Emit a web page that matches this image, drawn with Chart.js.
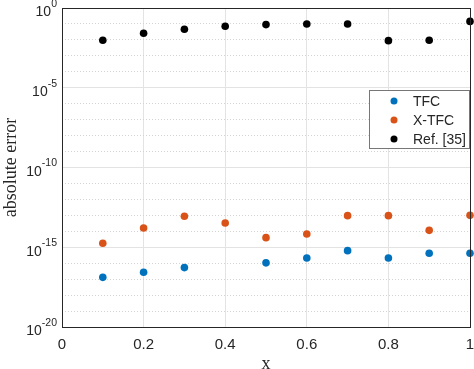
<!DOCTYPE html>
<html>
<head>
<meta charset="utf-8">
<script src="https://cdn.jsdelivr.net/npm/chart.js@4"></script>
<style>
  html, body { margin: 0; padding: 0; background: #fff; }
  #wrap { width: 474px; height: 369px; }
</style>
</head>
<body>
<div id="wrap"><canvas id="grafico"></canvas></div>
<script>
const xValues = [0.1, 0.2, 0.3, 0.4, 0.5, 0.6, 0.7, 0.8, 0.9, 1.0];
const tfc = [1.3e-17, 2.7e-17, 5.3e-17, null, 1.05e-16, 2.1e-16, 6.1e-16, 2.1e-16, 4.2e-16, 4.2e-16];
const xtfc = [1.8e-15, 1.6e-14, 8.7e-14, 3.3e-14, 4e-15, 6.8e-15, 9.6e-14, 9.6e-14, 1.15e-14, 1e-13];
const ref35 = [0.0095, 0.026, 0.047, 0.071, 0.091, 0.1, 0.1, 0.009, 0.0095, 0.145];
const seriesLabels = ['TFC', 'X-TFC', 'Ref. [35]'];
const seriesColors = ['#0072BD', '#D95319', '#000000'];
const yExponents = [-20, -19, -18, -17, -16, -15, -14, -13, -12, -11, -10, -9, -8, -7, -6, -5, -4, -3, -2, -1, 0];
const yLabelExponents = [-20, -15, -10, -5, 0];

const fonteSans = '"Liberation Sans", Arial, sans-serif';
const fonteSerif = '"Liberation Serif", "Times New Roman", serif';

function pontos(valores) {
  return xValues.map((x, i) => ({ x, y: valores[i] })).filter(p => p.y !== null);
}

// rotulos 10^n com expoente elevado, caixa e legenda
const caixaPlugin = {
  id: 'caixa',
  afterDraw(chart) {
    const { ctx, chartArea: a } = chart;
    const yScale = chart.scales.y;
    ctx.save();

    ctx.fillStyle = '#262626';
    ctx.textBaseline = 'middle';
    yLabelExponents.forEach(e => {
      const y = yScale.getPixelForValue(Math.pow(10, e));
      const exp = String(e);
      ctx.font = '10.5px ' + fonteSans;
      const wExp = ctx.measureText(exp).width;
      const xFim = a.left - 5;
      ctx.textAlign = 'right';
      ctx.fillText(exp, xFim, y - 4);
      ctx.font = '14px ' + fonteSans;
      ctx.fillText('10', xFim - wExp, y + 4.5);
    });

    ctx.strokeStyle = '#262626';
    ctx.lineWidth = 1;
    ctx.strokeRect(Math.round(a.left) + 0.5, Math.round(a.top) + 0.5, Math.round(a.right - a.left), Math.round(a.bottom - a.top));

    const bx = 369, by = 90, bw = 100, bh = 58;
    ctx.fillStyle = '#fff';
    ctx.fillRect(bx, by, bw, bh);
    ctx.strokeStyle = '#777';
    ctx.strokeRect(bx + 0.5, by + 0.5, bw, bh);
    ctx.font = '14px ' + fonteSans;
    ctx.textAlign = 'left';
    chart.data.datasets.forEach((ds, i) => {
      const y = 101 + i * 19;
      ctx.fillStyle = ds.backgroundColor;
      ctx.beginPath();
      ctx.arc(394, y, 3.5, 0, Math.PI * 2);
      ctx.fill();
      ctx.fillStyle = '#262626';
      ctx.fillText(ds.label, 413, y + 1);
    });
    ctx.restore();
  }
};

const ctx = document.getElementById('grafico').getContext('2d');
new Chart(ctx, {
  type: 'scatter',
  data: {
    datasets: [tfc, xtfc, ref35].map((valores, i) => ({
      label: seriesLabels[i],
      data: pontos(valores),
      backgroundColor: seriesColors[i],
      borderColor: seriesColors[i],
      pointRadius: 3.8,
      pointHoverRadius: 3.8,
      borderWidth: 0,
      clip: false
    }))
  },
  options: {
    responsive: true,
    maintainAspectRatio: false,
    animation: false,
    layout: { padding: { top: 8, right: 4, left: 0, bottom: 0 } },
    plugins: {
      legend: { display: false },
      tooltip: { enabled: false }
    },
    scales: {
      x: {
        type: 'linear',
        min: 0,
        max: 1,
        ticks: {
          stepSize: 0.2,
          color: '#262626',
          font: { family: fonteSans, size: 15 },
          padding: 9,
          maxRotation: 0,
          callback: v => (Math.round(v * 10) / 10).toString()
        },
        grid: { color: '#e3e3e3', drawTicks: false },
        border: { display: false },
        title: {
          display: true,
          text: 'x',
          color: '#262626',
          font: { family: fonteSerif, size: 18 },
          padding: { top: 0, bottom: -6 }
        },
        afterFit: s => { s.height = 42; s.paddingLeft = 0; s.paddingRight = 0; }
      },
      y: {
        type: 'logarithmic',
        min: 1e-20,
        max: 1,
        afterBuildTicks: s => { s.ticks = yExponents.map(e => ({ value: Math.pow(10, e) })); },
        ticks: {
          autoSkip: false,
          callback: () => ''
        },
        grid: {
          drawTicks: false,
          color: c => {
            if (!c.tick) return '#e3e3e3';
            const e = Math.round(Math.log10(c.tick.value));
            return e % 5 === 0 ? '#e3e3e3' : '#d4d4d4';
          }
        },
        border: {
          display: false,
          dash: c => {
            if (!c.tick) return [];
            const e = Math.round(Math.log10(c.tick.value));
            return e % 5 === 0 ? [] : [1, 2];
          }
        },
        title: {
          display: true,
          text: 'absolute error',
          color: '#262626',
          font: { family: fonteSerif, size: 18 },
          padding: { top: 0, bottom: 0 }
        },
        afterFit: s => { s.width = 62; s.paddingTop = 0; s.paddingBottom = 0; }
      }
    }
  },
  plugins: [caixaPlugin]
});
</script>
</body>
</html>
